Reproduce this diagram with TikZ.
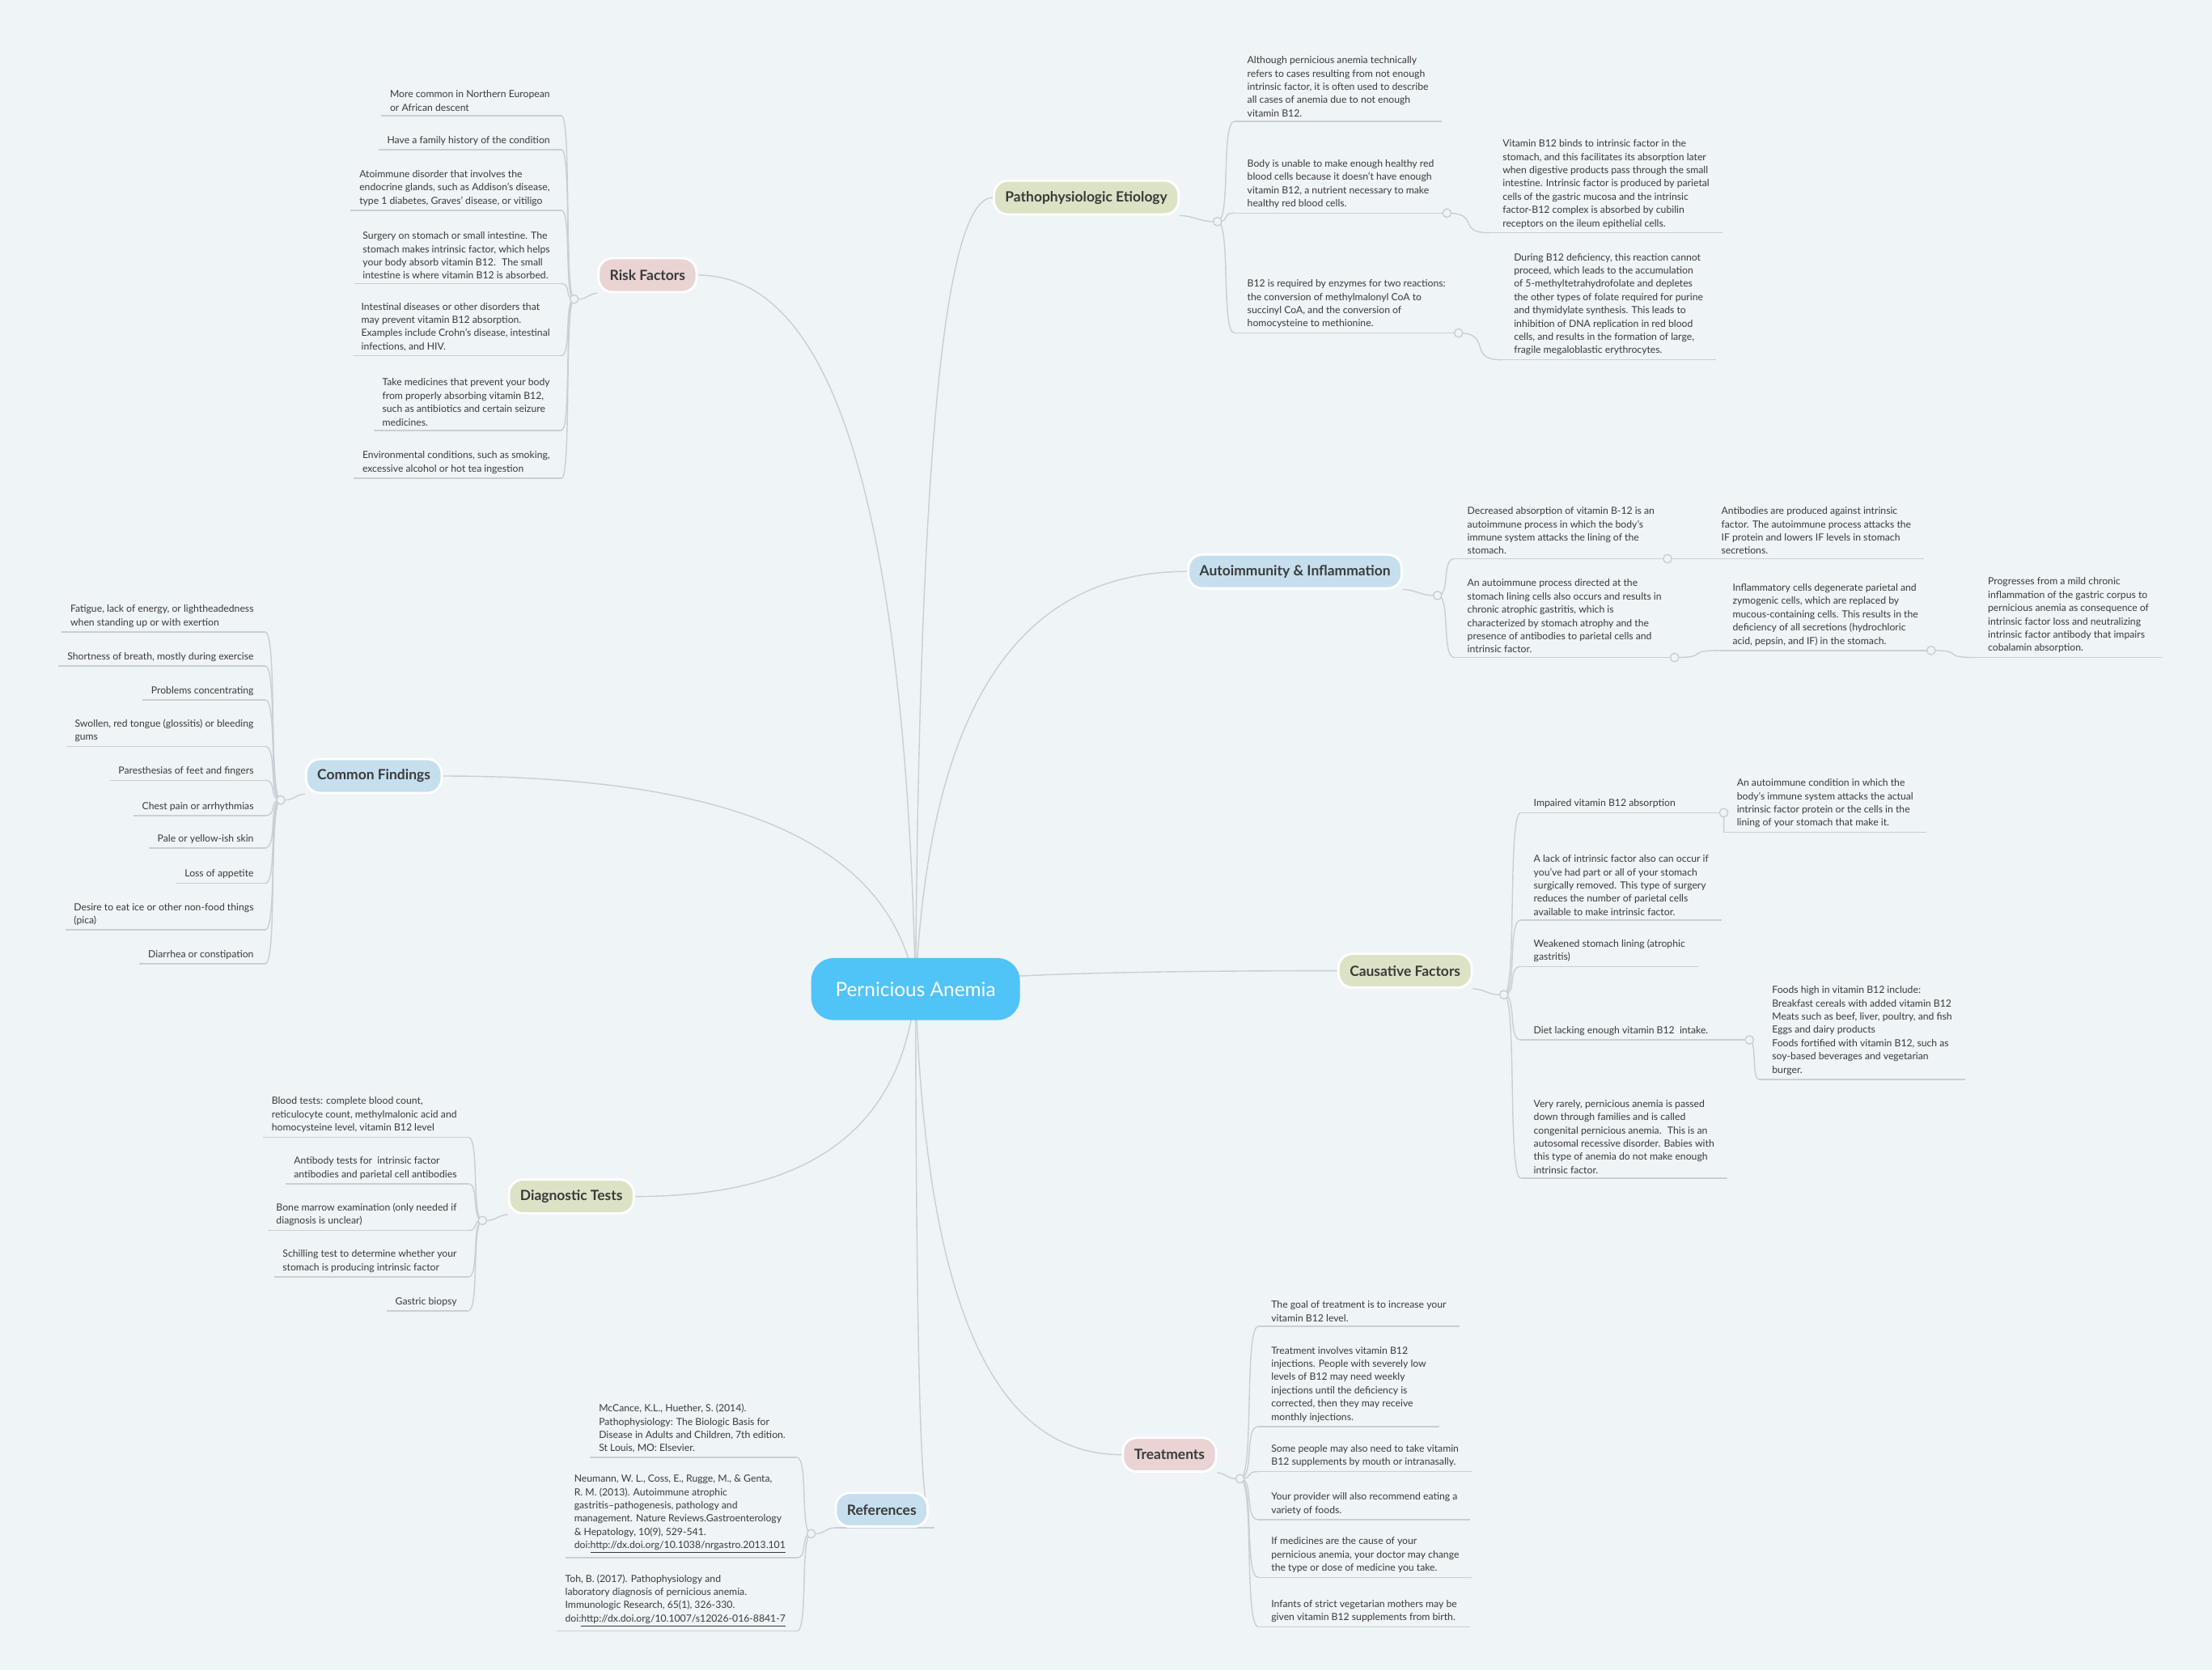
\documentclass[tikz,border=0pt]{standalone}
\usepackage{fontspec}
\setmainfont{Lato}
\usetikzlibrary{calc}
\pgfdeclarelayer{bg}\pgfdeclarelayer{lines}\pgfsetlayers{bg,lines,main}
\definecolor{bgc}{HTML}{EFF4F7}
\definecolor{lc}{HTML}{C9CFD4}
\definecolor{tgreen}{HTML}{DCE3C5}
\definecolor{tpink}{HTML}{E9D3D3}
\definecolor{tblue}{HTML}{C6DFEE}
\definecolor{cblue}{HTML}{50C3F7}
\definecolor{txt}{HTML}{3A3A3A}
\tikzset{
 ln/.style={draw=lc,line width=0.8pt},
 leaf/.style={inner sep=0pt,align=left,text=txt,font=\fontsize{7}{9.4}\selectfont},
 topic/.style={rounded corners=10pt,draw=white,line width=1.6pt,inner xsep=8pt,minimum height=24pt,text=txt,font=\fontsize{10}{12}\selectfont\bfseries},
 jn/.style={circle,inner sep=0pt,minimum size=6pt,draw=lc,line width=0.8pt,fill=bgc},
}
\newcommand\conn[2]{\begin{pgfonlayer}{lines}\draw[ln] let \p1=(#1),\p2=(#2) in (\p1) .. controls ({\x1+0.8*(\x2-\x1)},\y1) and ({\x1+0.2*(\x2-\x1)},\y2) .. (\p2);\end{pgfonlayer}}
\newcommand\leafR[5]{%
 \node[leaf,anchor=south west] (#1) at (#3,#4-3) {#5};
 \coordinate (#1s) at (#3-9,#4);
 \coordinate (#1e) at ($(#1.east |- #1s)+(9,0)$);
 \begin{pgfonlayer}{lines}\draw[ln] (#1s)--(#1e);\end{pgfonlayer}
 \conn{#2}{#1s}}
\newcommand\leafL[5]{%
 \node[leaf,anchor=south east] (#1) at (#3,#4-3) {#5};
 \coordinate (#1s) at (#3+8,#4);
 \coordinate (#1e) at ($(#1.west |- #1s)+(-6,0)$);
 \begin{pgfonlayer}{lines}\draw[ln] (#1s)--(#1e);\end{pgfonlayer}
 \conn{#2}{#1s}}
\newcommand\ctr[2]{\begin{pgfonlayer}{lines}\draw[ln] let \p1=(#1),\p2=(#2) in (\p1) .. controls ({\x1+0.05*(\x2-\x1)},{\y1+0.7*(\y2-\y1)}) and ({\x1+0.4*(\x2-\x1)},\y2) .. (\p2);\end{pgfonlayer}}
\begin{document}
\begin{tikzpicture}[x=1pt,y=-1pt]
\useasboundingbox (0,0) rectangle (1568,1184);
\begin{pgfonlayer}{bg}\fill[bgc] (0,0) rectangle (1568,1184);\end{pgfonlayer}
\node[rounded corners=16pt,fill=cblue,text=white,minimum width=148pt,minimum height=44pt,font=\fontsize{14}{16}\selectfont] (c) at (649,701) {Pernicious Anemia};
% topics
\node[topic,fill=tgreen] (pe) at (770,140) {Pathophysiologic Etiology};
\node[topic,fill=tblue] (ai) at (918,405) {Autoimmunity \& Inflammation};
\node[topic,fill=tgreen] (cf) at (996,688) {Causative Factors};
\node[topic,fill=tpink] (tr) at (829,1031) {Treatments};
\node[topic,fill=tpink] (rf) at (459,195) {Risk Factors};
\node[topic,fill=tblue] (cm) at (265,550) {Common Findings};
\node[topic,fill=tgreen] (dt) at (405,848) {Diagnostic Tests};
\node[topic,fill=tblue] (rs) at (625,1070) {References};
\foreach \t in {pe,ai,cf,tr}{\ctr{c}{\t.west}}
\foreach \t in {rf,cm,dt,rs}{\ctr{c}{\t.east}}
\node[jn] (pej) at (863,157) {};
\node[jn] (aij) at (1019,422) {};
\node[jn] (cfj) at (1066,705) {};
\node[jn] (trj) at (879,1048) {};
\node[jn] (rfj) at (407,212) {};
\node[jn] (cmj) at (199,567) {};
\node[jn] (dtj) at (342,865) {};
\node[jn] (rsj) at (575,1087) {};
\begin{pgfonlayer}{lines}
\draw[ln] (pe.south east) to[out=0,in=180] (pej);
\draw[ln] (ai.south east) to[out=0,in=180] (aij);
\draw[ln] (cf.south east) to[out=0,in=180] (cfj);
\draw[ln] (tr.south east) to[out=0,in=180] (trj);
\draw[ln] (rf.south west) to[out=180,in=0] (rfj);
\draw[ln] (cm.south west) to[out=180,in=0] (cmj);
\draw[ln] (dt.south west) to[out=180,in=0] (dtj);
\draw[ln] (rs.south west) to[out=180,in=0] (rsj);
\draw[ln] (rs.south west) -- (rs.south east) -- ++(4,0);
\end{pgfonlayer}
% Pathophysiologic
\leafR{pe1}{pej}{884}{86}{Although pernicious anemia technically\\refers to cases resulting from not enough\\intrinsic factor, it is often used to describe\\all cases of anemia due to not enough\\vitamin B12.}
\leafR{pe2}{pej}{884}{151}{Body is unable to make enough healthy red\\blood cells because it doesn't have enough\\vitamin B12, a nutrient necessary to make\\healthy red blood cells.}
\leafR{pe3}{pej}{884}{236}{B12 is required by enzymes for two reactions:\\the conversion of methylmalonyl CoA to\\succinyl CoA, and the conversion of\\homocysteine to methionine.}
\node[jn] (pe2j) at (pe2e) {};
\node[jn] (pe3j) at (pe3e) {};
\leafR{pe2a}{pe2j}{1065}{165}{Vitamin B12 binds to intrinsic factor in the\\stomach, and this facilitates its absorption later\\when digestive products pass through the small\\intestine. Intrinsic factor is produced by parietal\\cells of the gastric mucosa and the intrinsic\\factor-B12 complex is absorbed by cubilin\\receptors on the ileum epithelial cells.}
\leafR{pe3a}{pe3j}{1073}{255}{During B12 deficiency, this reaction cannot\\proceed, which leads to the accumulation\\of 5-methyltetrahydrofolate and depletes\\the other types of folate required for purine\\and thymidylate synthesis. This leads to\\inhibition of DNA replication in red blood\\cells, and results in the formation of large,\\fragile megaloblastic erythrocytes.}
% Autoimmunity
\leafR{ai1}{aij}{1040}{396}{Decreased absorption of vitamin B-12 is an\\autoimmune process in which the body's\\immune system attacks the lining of the\\stomach.}
\leafR{ai2}{aij}{1040}{466}{An autoimmune process directed at the\\stomach lining cells also occurs and results in\\chronic atrophic gastritis, which is\\characterized by stomach atrophy and the\\presence of antibodies to parietal cells and\\intrinsic factor.}
\node[jn] (ai1j) at (ai1e) {};
\node[jn] (ai2j) at (ai2e) {};
\leafR{ai1a}{ai1j}{1220}{396}{Antibodies are produced against intrinsic\\factor. The autoimmune process attacks the\\IF protein and lowers IF levels in stomach\\secretions.}
\leafR{ai2a}{ai2j}{1228}{461}{Inflammatory cells degenerate parietal and\\zymogenic cells, which are replaced by\\mucous-containing cells. This results in the\\deficiency of all secretions (hydrochloric\\acid, pepsin, and IF) in the stomach.}
\node[jn] (ai2aj) at (ai2ae) {};
\leafR{ai2b}{ai2aj}{1409}{466}{Progresses from a mild chronic\\inflammation of the gastric corpus to\\pernicious anemia as consequence of\\intrinsic factor loss and neutralizing\\intrinsic factor antibody that impairs\\cobalamin absorption.}
% Causative
\leafR{cf1}{cfj}{1087}{576}{Impaired vitamin B12 absorption}
\leafR{cf2}{cfj}{1087}{652}{A lack of intrinsic factor also can occur if\\you've had part or all of your stomach\\surgically removed. This type of surgery\\reduces the number of parietal cells\\available to make intrinsic factor.}
\leafR{cf3}{cfj}{1087}{685}{Weakened stomach lining (atrophic\\gastritis)}
\leafR{cf4}{cfj}{1087}{737}{Diet lacking enough vitamin B12~ intake.}
\leafR{cf5}{cfj}{1087}{835}{Very rarely, pernicious anemia is passed\\down through families and is called\\congenital pernicious anemia.~ This is an\\autosomal recessive disorder. Babies with\\this type of anemia do not make enough\\intrinsic factor.}
\node[jn] (cf1j) at ($(cf1e)+(25,0)$) {};
\begin{pgfonlayer}{lines}\draw[ln] (cf1e) -- (cf1j);\end{pgfonlayer}
\node[jn] (cf4j) at ($(cf4e)+(20,0)$) {};
\begin{pgfonlayer}{lines}\draw[ln] (cf4e) -- (cf4j);\end{pgfonlayer}
\leafR{cf1a}{cf1j}{1231}{590}{An autoimmune condition in which the\\body's immune system attacks the actual\\intrinsic factor protein or the cells in the\\lining of your stomach that make it.}
\leafR{cf4a}{cf4j}{1256}{765}{Foods high in vitamin B12 include:\\Breakfast cereals with added vitamin B12\\Meats such as beef, liver, poultry, and fish\\Eggs and dairy products\\Foods fortified with vitamin B12, such as\\soy-based beverages and vegetarian\\burger.}
% Treatments
\leafR{tr1}{trj}{901}{940}{The goal of treatment is to increase your\\vitamin B12 level.}
\leafR{tr2}{trj}{901}{1011}{Treatment involves vitamin B12\\injections. People with severely low\\levels of B12 may need weekly\\injections until the deficiency is\\corrected, then they may receive\\monthly injections.}
\leafR{tr3}{trj}{901}{1043}{Some people may also need to take vitamin\\B12 supplements by mouth or intranasally.}
\leafR{tr4}{trj}{901}{1077}{Your provider will also recommend eating a\\variety of foods.}
\leafR{tr5}{trj}{901}{1118}{If medicines are the cause of your\\pernicious anemia, your doctor may change\\the type or dose of medicine you take.}
\leafR{tr6}{trj}{901}{1153}{Infants of strict vegetarian mothers may be\\given vitamin B12 supplements from birth.}
% Risk factors
\leafL{rf1}{rfj}{390}{82}{More common in Northern European\\or African descent}
\leafL{rf2}{rfj}{390}{106}{Have a family history of the condition}
\leafL{rf3}{rfj}{390}{149}{Atoimmune disorder that involves the\\endocrine glands, such as Addison's disease,\\type 1 diabetes, Graves' disease, or vitiligo}
\leafL{rf4}{rfj}{390}{201}{Surgery on stomach or small intestine. The\\stomach makes intrinsic factor, which helps\\your body absorb vitamin B12.~ The small\\intestine is where vitamin B12 is absorbed.}
\leafL{rf5}{rfj}{390}{252}{Intestinal diseases or other disorders that\\may prevent vitamin B12 absorption.\\Examples include Crohn's disease, intestinal\\infections, and HIV.}
\leafL{rf6}{rfj}{390}{305}{Take medicines that prevent your body\\from properly absorbing vitamin B12,\\such as antibiotics and certain seizure\\medicines.}
\leafL{rf7}{rfj}{390}{339}{Environmental conditions, such as smoking,\\excessive alcohol or hot tea ingestion}
% Common findings
\leafL{cm1}{cmj}{180}{448}{Fatigue, lack of energy, or lightheadedness\\when standing up or with exertion}
\leafL{cm2}{cmj}{180}{472}{Shortness of breath, mostly during exercise}
\leafL{cm3}{cmj}{180}{496}{Problems concentrating}
\leafL{cm4}{cmj}{180}{529}{Swollen, red tongue (glossitis) or bleeding\\gums}
\leafL{cm5}{cmj}{180}{553}{Paresthesias of feet and fingers}
\leafL{cm6}{cmj}{180}{578}{Chest pain or arrhythmias}
\leafL{cm7}{cmj}{180}{601}{Pale or yellow-ish skin}
\leafL{cm8}{cmj}{180}{626}{Loss of appetite}
\leafL{cm9}{cmj}{180}{659}{Desire to eat ice or other non-food things\\(pica)}
\leafL{cm10}{cmj}{180}{683}{Diarrhea or constipation}
% Diagnostic
\leafL{dt1}{dtj}{324}{806}{Blood tests: complete blood count,\\reticulocyte count, methylmalonic acid and\\homocysteine level, vitamin B12 level}
\leafL{dt2}{dtj}{324}{839}{Antibody tests for~ intrinsic factor\\antibodies and parietal cell antibodies}
\leafL{dt3}{dtj}{324}{872}{Bone marrow examination (only needed if\\diagnosis is unclear)}
\leafL{dt4}{dtj}{324}{905}{Schilling test to determine whether your\\stomach is producing intrinsic factor}
\leafL{dt5}{dtj}{324}{929}{Gastric biopsy}
% References
\leafL{rs1}{rsj}{557}{1033}{McCance, K.L., Huether, S. (2014).\\Pathophysiology: The Biologic Basis for\\Disease in Adults and Children, 7th edition.\\St Louis, MO: Elsevier.}
\leafL{rs2}{rsj}{557}{1104}{Neumann, W. L., Coss, E., Rugge, M., \& Genta,\\R. M. (2013). Autoimmune atrophic\\gastritis--pathogenesis, pathology and\\management. Nature Reviews.Gastroenterology\\\& Hepatology, 10(9), 529-541.\\doi:\underline{http://dx.doi.org/10.1038/nrgastro.2013.101}}
\leafL{rs3}{rsj}{557}{1156}{Toh, B. (2017). Pathophysiology and\\laboratory diagnosis of pernicious anemia.\\Immunologic Research, 65(1), 326-330.\\doi:\underline{http://dx.doi.org/10.1007/s12026-016-8841-7}}
\end{tikzpicture}
\end{document}
